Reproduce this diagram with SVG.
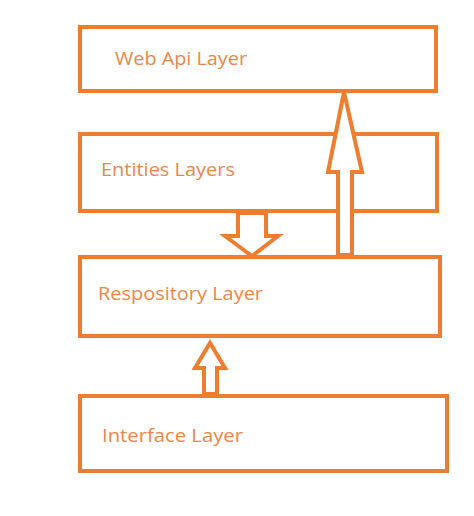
<svg xmlns="http://www.w3.org/2000/svg" width="474" height="516" viewBox="0 0 474 516">
<style>
.box{fill:#fff;stroke:#ED7D31;stroke-width:4}
.lbl{font-family:"Open Sans","Liberation Sans",sans-serif;font-size:19px;fill:#E9874A}
.arr{fill:#fff;stroke:#ED7D31;stroke-width:4;stroke-linejoin:miter}
</style>
<rect width="474" height="516" fill="#fff"/>
<g id="web-api">
<rect class="box" x="80" y="27" width="356" height="64"/>
<text class="lbl" x="115" y="65" textLength="132" lengthAdjust="spacingAndGlyphs">Web Api Layer</text>
</g>
<g id="entities">
<rect class="box" x="80" y="134" width="357" height="77"/>
<text class="lbl" x="101" y="176" textLength="134" lengthAdjust="spacingAndGlyphs">Entities Layers</text>
</g>
<g id="repository">
<rect class="box" x="80" y="257" width="360" height="79"/>
<text class="lbl" x="98" y="300" textLength="165" lengthAdjust="spacingAndGlyphs">Respository Layer</text>
</g>
<g id="interface">
<rect class="box" x="80" y="396" width="367" height="75"/>
<text class="lbl" x="102" y="442" textLength="141" lengthAdjust="spacingAndGlyphs">Interface Layer</text>
</g>
<g id="connectors">
<polygon class="arr" points="238,213 266,213 266,236 278,236 252,256 225,236 238,236"/>
<polygon class="arr" points="338,255 352,255 352,172 362,172 344,92 328,172 338,172"/>
<polygon class="arr" points="204,394 217,394 217,368 225,368 210,343 195,368 204,368"/>
</g>
</svg>
